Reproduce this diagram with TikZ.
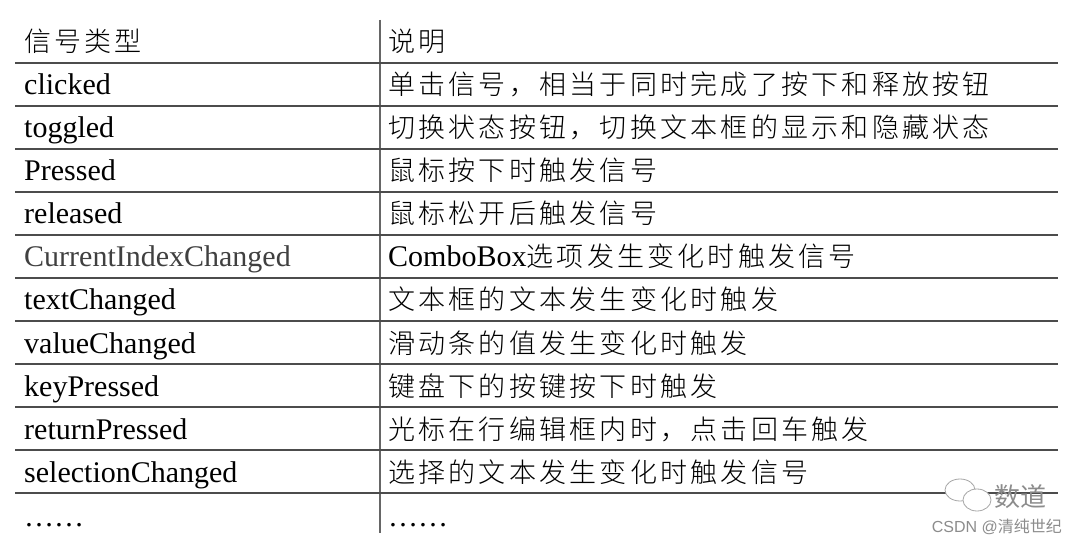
\documentclass[tikz,border=0pt]{standalone}
\usepackage{fontspec}
\setmainfont{Liberation Serif}
\newfontfamily\cjk[LetterSpace=12]{Noto Sans CJK SC Light}
\newfontfamily\cjkw{Noto Sans CJK SC}
\newfontfamily\sfw{Liberation Sans}
\begin{document}
\begin{tikzpicture}[x=1pt,y=-1pt,
  lt/.style={anchor=base west,inner sep=0pt,font=\fontsize{30}{32}\selectfont},
  ct/.style={anchor=base west,inner sep=0pt,font=\fontsize{27}{30}\selectfont},
  rl/.style={draw=black!70,line width=1.2pt}]
\useasboundingbox[fill=white] (0,0) rectangle (1080,548);
\draw[draw=black!60,line width=1.2pt] (380,20) -- (380,533);
\foreach \k in {0,...,10}{\draw[rl] (15,63+43*\k) -- (1058,63+43*\k);}
\node[ct] (h1) at (24,52) {\cjk 信号类型};
\node[ct] (h2) at (388,52) {\cjk 说明};
\def\rowA{clicked/单击信号，相当于同时完成了按下和释放按钮,toggled/切换状态按钮，切换文本框的显示和隐藏状态,Pressed/鼠标按下时触发信号,released/鼠标松开后触发信号}
\foreach [count=\i from 0] \a/\b in \rowA{
  \node[lt] at (24,95+43*\i) {\a};
  \node[ct] at (388,95+43*\i) {\cjk \b};}
\node[lt,text=black!75] (ci) at (24,267) {CurrentIndexChanged};
\node[ct] (cb) at (388,267) {{\fontsize{30}{32}\selectfont ComboBox}{\cjk 选项发生变化时触发信号}};
\def\rowB{textChanged/文本框的文本发生变化时触发,valueChanged/滑动条的值发生变化时触发,keyPressed/键盘下的按键按下时触发,returnPressed/光标在行编辑框内时，点击回车触发,selectionChanged/选择的文本发生变化时触发信号}
\foreach [count=\i from 5] \a/\b in \rowB{
  \node[lt] at (24,95+43*\i) {\a};
  \node[ct] at (388,95+43*\i) {\cjk \b};}
\node[lt] (d1) at (24,526) {……};
\node[lt] (d2) at (388,526) {……};
% watermark
\draw[black!35,line width=0.8pt,fill=white] (960,490) ellipse (15 and 11);
\draw[black!35,line width=0.8pt,fill=white] (977,500) ellipse (14 and 11);
\node[inner sep=0pt,text=black!45,font=\cjkw\fontsize{26}{26}\selectfont] (wm) at (1020,497) {数道};
\node[inner sep=0pt,text=black!45,font=\sfw\fontsize{16}{16}\selectfont,anchor=east] (csdn) at (1062,527) {CSDN @{\cjkw 清纯世纪}};
\end{tikzpicture}
\end{document}
